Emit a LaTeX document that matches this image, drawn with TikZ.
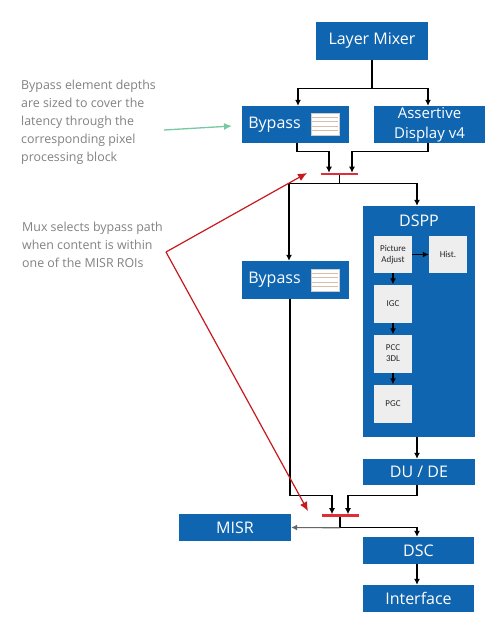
\documentclass[tikz,border=0pt]{standalone}
\usepackage{fontspec}
\setmainfont{Open Sans}
\newfontfamily\calib{Carlito}
\usetikzlibrary{arrows.meta,calc}
\definecolor{boxblue}{RGB}{15,101,175}
\definecolor{annot}{RGB}{130,130,130}
\definecolor{muxred}{RGB}{225,45,55}
\definecolor{callred}{RGB}{200,25,30}
\definecolor{callgreen}{RGB}{120,200,165}
\definecolor{innerfill}{RGB}{238,238,238}
\definecolor{iconline}{RGB}{215,190,170}
\begin{document}
\begin{tikzpicture}[x=1pt,y=-1pt,
  box/.style={fill=boxblue, inner sep=0pt, text=white, font=\fontsize{16}{20}\selectfont, align=center},
  btext/.style={inner sep=0pt, text=white, font=\fontsize{16}{20}\selectfont},
  innerbox/.style={fill=innerfill, inner sep=0pt, minimum width=38pt, minimum height=38pt, text=black!85, font=\calib\fontsize{9}{11}\selectfont, align=center},
  icon/.style={fill=white, draw=gray!40, line width=0.5pt, inner sep=0pt, minimum width=28pt, minimum height=22pt},
  iconln/.style={draw=iconline, line width=0.6pt},
  mux/.style={fill=muxred, inner sep=0pt, minimum width=37pt, minimum height=2.2pt},
  line/.style={draw=black, line width=1.1pt},
  arr/.style={line, -{Latex[length=6pt,width=6pt]}},
  grayarr/.style={draw=black!60, line width=1.1pt, -{Latex[length=6pt,width=6pt]}},
  redarr/.style={draw=callred, line width=1.2pt, -{Latex[length=9pt,width=8pt]}},
  greenarr/.style={draw=callgreen, line width=1.3pt, -{Latex[length=8pt,width=7pt]}},
  annottext/.style={inner sep=0pt, text=annot, align=left, font=\fontsize{12.4}{18}\selectfont}
]
\useasboundingbox (0,0) rectangle (490,619);
\fill[white] (0,0) rectangle (490,619);

% boxes
\node[box, minimum width=112pt, minimum height=38pt] (lm) at (372,41) {Layer Mixer};
\node[box, minimum width=107pt, minimum height=37pt] (byp1) at (295.5,124.5) {};
\node[btext] (byp1t) at (274.5,124.5) {Bypass};
\node[icon] (byp1i) at (325,124) {};
\foreach \k in {1,...,4}
  \draw[iconln] ($(byp1i.north west)+(1.5,\k*4.4)$) -- ($(byp1i.north east)+(-1.5,\k*4.4)$);
\node[box, minimum width=111pt, minimum height=37pt, font=\fontsize{15}{20}\selectfont] (ad) at (429.5,124.5) {Assertive\\Display v4};

\node[box, minimum width=107pt, minimum height=38pt] (byp2) at (295.5,280) {};
\node[btext] (byp2t) at (274.5,280) {Bypass};
\node[icon] (byp2i) at (325,280) {};
\foreach \k in {1,...,4}
  \draw[iconln] ($(byp2i.north west)+(1.5,\k*4.4)$) -- ($(byp2i.north east)+(-1.5,\k*4.4)$);

\node[box, minimum width=112pt, minimum height=231pt] (dspp) at (419,321.5) {};
\node[btext] (dsppt) at (419,221) {DSPP};
\node[innerbox, minimum height=37pt] (pa) at (393,254.5) {Picture\\Adjust};
\node[innerbox, minimum height=37pt] (hist) at (448,254.5) {Hist.};
\node[innerbox] (igc) at (393,303.5) {IGC};
\node[innerbox] (pcc) at (393,353.5) {PCC\\3DL};
\node[innerbox] (pgc) at (393,403.5) {PGC};

\node[box, minimum width=112pt, minimum height=26pt] (du) at (419,472) {DU / DE};
\node[box, minimum width=112pt, minimum height=27pt] (misr) at (235,527.5) {MISR};
\node[box, minimum width=111pt, minimum height=27pt] (dsc) at (418.5,550.5) {DSC};
\node[box, minimum width=111pt, minimum height=27pt] (iface) at (418.5,598.5) {Interface};

% muxes
\node[mux] (mux1) at (339.5,174) {};
\node[mux] (mux2) at (340,515.5) {};

% connectors
\draw[line] (lm.south) -- ++(0,28) coordinate (j1);
\draw[arr] (j1) -| ([xshift=2.5pt]byp1.north);
\draw[arr] (j1) -| ([xshift=-1.5pt]ad.north);
\draw[arr] ([xshift=1.5pt]byp1.south) -- ++(0,8) -| ([xshift=-10.5pt]mux1.north);
\draw[arr] ([xshift=-1.5pt]ad.south) -- ++(0,8) -| ([xshift=12.5pt]mux1.north);
\draw[line] (mux1.south) -- ++(0,8) coordinate (j2);
\draw[arr] (j2) -| ([xshift=-6.5pt]byp2.north);
\draw[arr] (j2) -| ([xshift=-2pt]dspp.north);
\draw[arr] ([xshift=-2pt]dspp.south) -- ([xshift=-2pt]du.north);
\draw[arr] ([xshift=-5.5pt]byp2.south) -- ++(0,196) -| ([xshift=-8pt]mux2.north);
\draw[arr] ([xshift=-2pt]du.south) -- ++(0,10) -| ([xshift=8pt]mux2.north);
\draw[line] (mux2.south) -- ++(0,11) coordinate (j3);
\draw[grayarr] (j3) -- (misr.east);
\draw[arr] (j3) -| ([xshift=-1.5pt]dsc.north);
\draw[arr] ([xshift=-1.5pt]dsc.south) -- ([xshift=-1.5pt]iface.north);

% inside DSPP
\draw[arr] (pa.east) -- (hist.west);
\draw[arr] (pa.south) -- (igc.north);
\draw[arr] (igc.south) -- (pcc.north);
\draw[arr] (pcc.south) -- (pgc.north);

% annotations
\node[annottext, anchor=north west] (n1) at (21,79.5) {Bypass element depths\\are sized to cover the\\latency through the\\corresponding pixel\\processing block};
\node[annottext, anchor=north west] (n2) at (22,222) {Mux selects bypass path\\when content is within\\one of the MISR ROIs};

\coordinate (g1) at (164,130);
\coordinate (g2) at (232,126);
\draw[greenarr] (g1) -- (g2);

\coordinate (rc) at (166,252);
\coordinate (r1) at (307,173);
\coordinate (r2) at (308,511);
\draw[redarr] (rc) -- (r1);
\draw[redarr] (rc) -- (r2);
\end{tikzpicture}
\end{document}
